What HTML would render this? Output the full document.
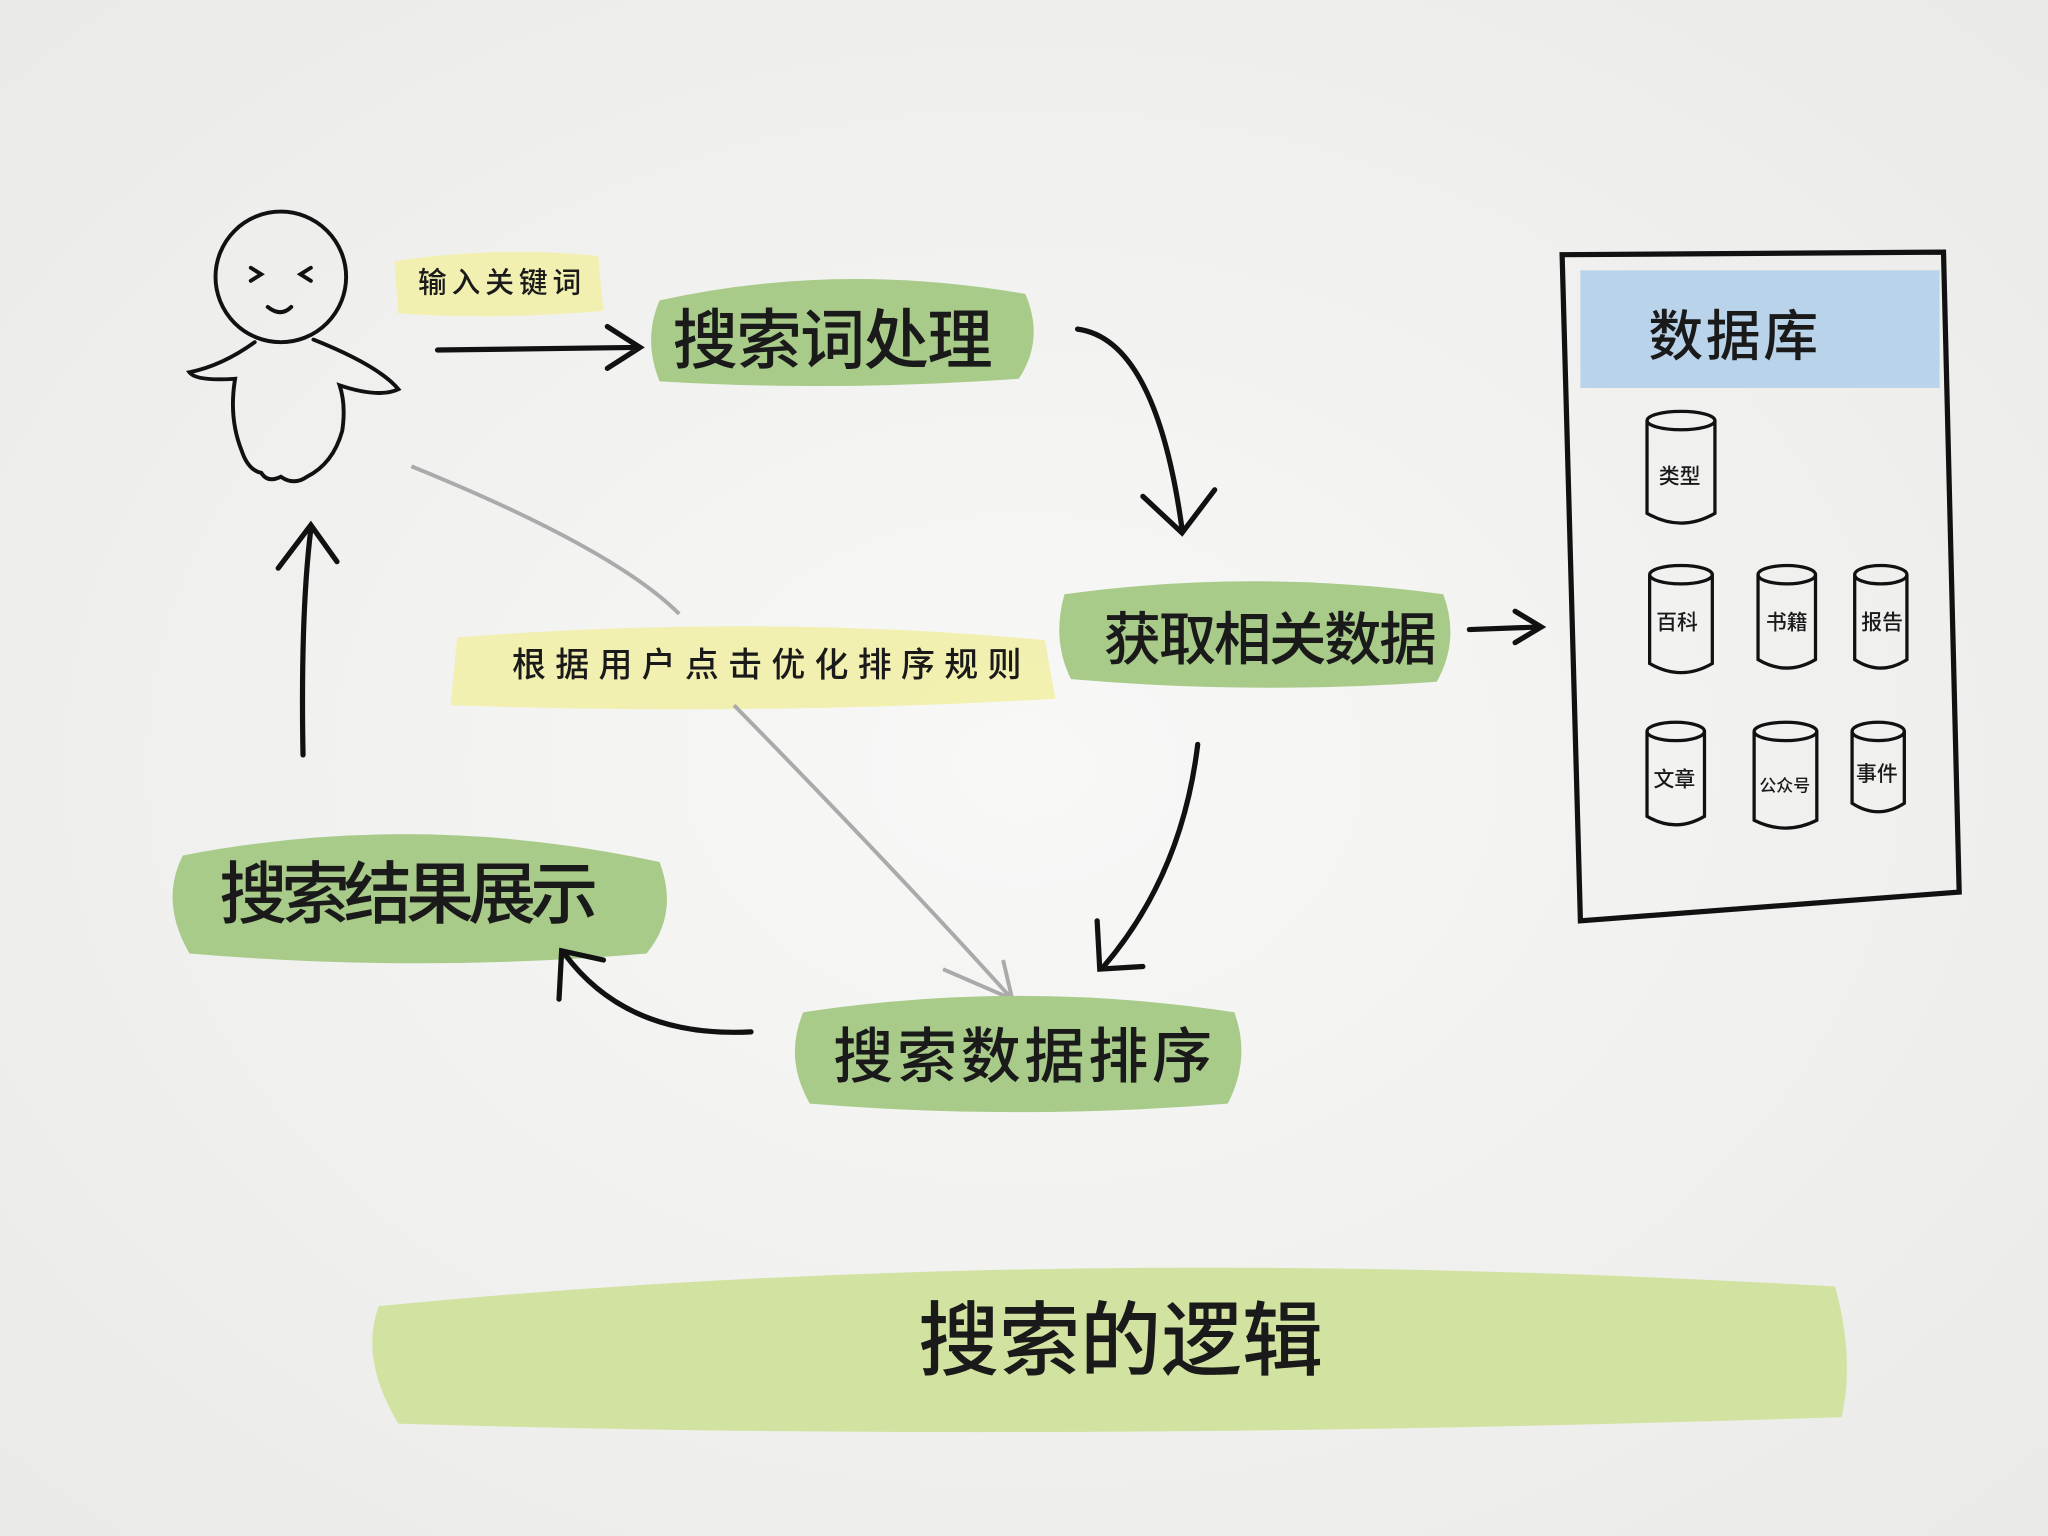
<!DOCTYPE html>
<html><head><meta charset="utf-8"><style>
html,body{margin:0;padding:0;background:#f3f3f1;}
svg{display:block}
text{font-family:"Liberation Sans","Noto Sans CJK SC","WenQuanYi Zen Hei",sans-serif;fill:#1a1a1a;font-weight:500}
</style></head><body>
<svg width="2048" height="1536" viewBox="0 0 1568 1176" xmlns="http://www.w3.org/2000/svg">
<defs>
<radialGradient id="bg" cx="50%" cy="50%" r="75%">
<stop offset="0" stop-color="#f8f8f7"/><stop offset="1" stop-color="#e9e9e7"/>
</radialGradient>
</defs>
<rect width="1568" height="1176" fill="url(#bg)"/>

<!-- person -->
<g fill="none" stroke="#111" stroke-width="3" stroke-linecap="round">
<circle cx="215" cy="212" r="50"/>
<path d="M192 205 l8 5 l-8 5 M238 205 l-8 5 l8 5"/>
<path d="M205 235 q10 8 18 0"/>
<path d="M195 262 Q170 280 145 285 Q150 292 180 290 Q175 320 185 345 Q190 360 200 362 Q205 370 215 365 Q225 372 235 365 Q255 355 262 330 Q265 310 260 295 Q290 305 305 298 Q290 280 240 260"/>
</g>

<!-- yellow highlights -->
<path d="M302 200 Q380 188 458 196 L462 238 Q380 245 305 240 Z" fill="#f1f0a8" opacity="0.9"/>
<text x="320" y="224" font-size="22" textLength="125">输入关键词</text>
<path d="M350 488 Q580 470 800 490 L808 535 Q580 548 345 540 Z" fill="#f1f0a8" opacity="0.9"/>

<!-- gray line -->
<path d="M315 357 Q470 420 520 470 M562 540 Q680 660 775 765" fill="none" stroke="#aaa" stroke-width="3"/>
<path d="M722 742 L775 765 L768 735" fill="none" stroke="#aaa" stroke-width="3"/>
<text x="392" y="518" font-size="26" textLength="390">根据用户点击优化排序规则</text>

<!-- green blobs -->
<path d="M505 230 Q640 200 785 225 Q800 260 780 290 Q640 300 505 292 Q492 260 505 230Z" fill="#a8cb8a"/>
<text x="515" y="278" font-size="50" textLength="245">搜索词处理</text>
<path d="M815 455 Q960 435 1105 455 Q1118 490 1100 522 Q960 532 820 520 Q805 490 815 455Z" fill="#a8cb8a"/>
<text x="845" y="505" font-size="44" textLength="255">获取相关数据</text>
<path d="M615 775 Q780 750 945 775 Q958 810 940 845 Q780 858 620 845 Q600 810 615 775Z" fill="#a8cb8a"/>
<text x="638" y="825" font-size="46" textLength="290">搜索数据排序</text>
<path d="M140 655 Q320 620 505 660 Q520 700 495 730 Q320 745 145 730 Q122 690 140 655Z" fill="#a8cb8a"/>
<text x="168" y="703" font-size="52" textLength="290">搜索结果展示</text>

<!-- arrows -->
<g fill="none" stroke="#111" stroke-width="4" stroke-linecap="round">
<path d="M335 268 L488 266 M465 250 L490 266 L465 282"/>
<path d="M825 252 Q885 260 905 405 M875 380 L905 408 L930 375"/>
<path d="M1125 482 L1180 480 M1160 468 L1180 480 L1160 492"/>
<path d="M917 570 Q905 670 845 740 M840 705 L842 742 L875 740"/>
<path d="M575 790 Q480 795 432 730 M428 765 L430 728 L462 735"/>
<path d="M232 578 Q230 470 238 405 M213 435 L238 402 L258 430"/>
</g>

<!-- database -->
<rect x="1210" y="207" width="275" height="90" fill="#b8d3ea"/>
<path d="M1196 195 L1488 193 L1500 683 L1210 705 Z" fill="none" stroke="#111" stroke-width="4"/>
<text x="1262" y="272" font-size="42" textLength="130">数据库</text>
<g fill="none" stroke="#111" stroke-width="2.5">
<ellipse cx="1287" cy="322" rx="26" ry="7"/><path d="M1261 322 L1261 393 Q1287 408 1313 393 L1313 322"/>
<ellipse cx="1287" cy="440" rx="24" ry="7"/><path d="M1263 440 L1263 508 Q1287 522 1311 508 L1311 440"/>
<ellipse cx="1368" cy="440" rx="22" ry="7"/><path d="M1346 440 L1346 505 Q1368 518 1390 505 L1390 440"/>
<ellipse cx="1440" cy="440" rx="20" ry="7"/><path d="M1420 440 L1420 505 Q1440 518 1460 505 L1460 440"/>
<ellipse cx="1283" cy="560" rx="22" ry="7"/><path d="M1261 560 L1261 625 Q1283 638 1305 625 L1305 560"/>
<ellipse cx="1367" cy="560" rx="24" ry="7"/><path d="M1343 560 L1343 628 Q1367 640 1391 628 L1391 560"/>
<ellipse cx="1438" cy="560" rx="20" ry="7"/><path d="M1418 560 L1418 615 Q1438 628 1458 615 L1458 560"/>
</g>
<g font-size="16">
<text x="1270" y="370">类型</text>
<text x="1268" y="482">百科</text>
<text x="1352" y="482">书籍</text>
<text x="1425" y="482">报告</text>
<text x="1266" y="602">文章</text>
<text x="1347" y="606" font-size="13">公众号</text>
<text x="1421" y="598">事件</text>
</g>

<!-- bottom bar -->
<path d="M290 1000 Q800 950 1405 985 Q1420 1040 1410 1085 Q800 1105 305 1090 Q275 1040 290 1000Z" fill="#d2e2a0"/>
<text x="703" y="1048" font-size="62" textLength="310">搜索的逻辑</text>
</svg>
</body></html>
